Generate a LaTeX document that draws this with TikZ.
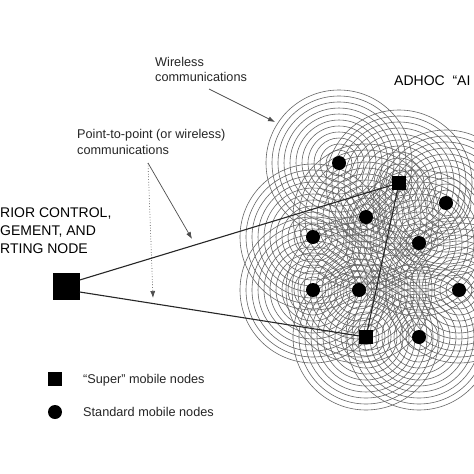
\documentclass[tikz,border=0pt]{standalone}
\usepackage{fontspec}
\setmainfont{Liberation Sans}
\usetikzlibrary{arrows.meta}
\begin{document}
\begin{tikzpicture}[x=1pt,y=-1pt,
  ring/.style={draw=black!60, line width=0.6pt},
  dot/.style={circle, fill=black, inner sep=0pt, minimum size=14pt},
  sq/.style={rectangle, fill=black, inner sep=0pt, minimum size=14pt},
  bigsq/.style={rectangle, fill=black, inner sep=0pt, minimum size=27pt},
  link/.style={draw=black!85, line width=1.1pt},
  ptr/.style={draw=black!70, line width=0.7pt, -{Latex[length=7pt,width=5pt]}},
  lbl/.style={font=\fontsize{12.7}{15}\selectfont, anchor=base west, inner sep=0pt, text=black!85},
  bigtxt/.style={font=\fontsize{14}{17}\selectfont, anchor=base west, inner sep=0pt}]
\useasboundingbox (0,0) rectangle (474,474);
\fill[white] (0,0) rectangle (474,474);
% concentric wireless rings
\foreach \px/\py in {339/163,446/203,366/217,313/237,419/243,313/290,359/290,459/290,419/337,399/183,366/337}{
  \foreach \r in {13,19,...,73}{
    \draw[ring] (\px,\py) circle[radius=\r pt];
  }
}
% mobile nodes
\node[dot] (n1) at (339,163) {};
\node[dot] (n2) at (446,203) {};
\node[dot] (n3) at (366,217) {};
\node[dot] (n4) at (313,237) {};
\node[dot] (n5) at (419,243) {};
\node[dot] (n6) at (313,290) {};
\node[dot] (n7) at (359,290) {};
\node[dot] (n8) at (459,290) {};
\node[dot] (n9) at (419,337) {};
\node[sq] (s1) at (399,183) {};
\node[sq] (s2) at (366,337) {};
\node[bigsq] (ctrl) at (66,286) {};
% links
\draw[link] ([yshift=6pt]ctrl.east) -- (s1);
\draw[link] ([yshift=-6pt]ctrl.east) -- (s2);
\draw[link] (s1) -- (s2);
% labels
\node[lbl] (w1) at (155,66.5) {Wireless};
\node[lbl] (w2) at (155,81.5) {communications};
\node[lbl] (p1) at (77,138.5) {Point-to-point (or wireless)};
\node[lbl] (p2) at (77,154) {communications};
\node[bigtxt] (b1) at (0,217) {RIOR CONTROL,};
\node[bigtxt] (b2) at (0,235) {GEMENT, AND};
\node[bigtxt] (b3) at (0,253) {RTING NODE};
\node[bigtxt] (ad) at (394,85) {ADHOC \ “AI};
% pointer arrows
\coordinate (wa) at (209,89);
\coordinate (wt) at (275,122);
\draw[ptr] (wa) -- (wt);
\coordinate (pa) at (148,163);
\coordinate (pt1) at (192,239);
\coordinate (pt2) at (153,298);
\draw[ptr] (pa) -- (pt1);
\draw[ptr, dotted] (pa) -- (pt2);
% legend
\node[sq] (ls) at (55,379) {};
\node[dot] (lc) at (55,412) {};
\node[lbl] (lt1) at (83,383.5) {“Super” mobile nodes};
\node[lbl] (lt2) at (83,416.5) {Standard mobile nodes};
\end{tikzpicture}
\end{document}
